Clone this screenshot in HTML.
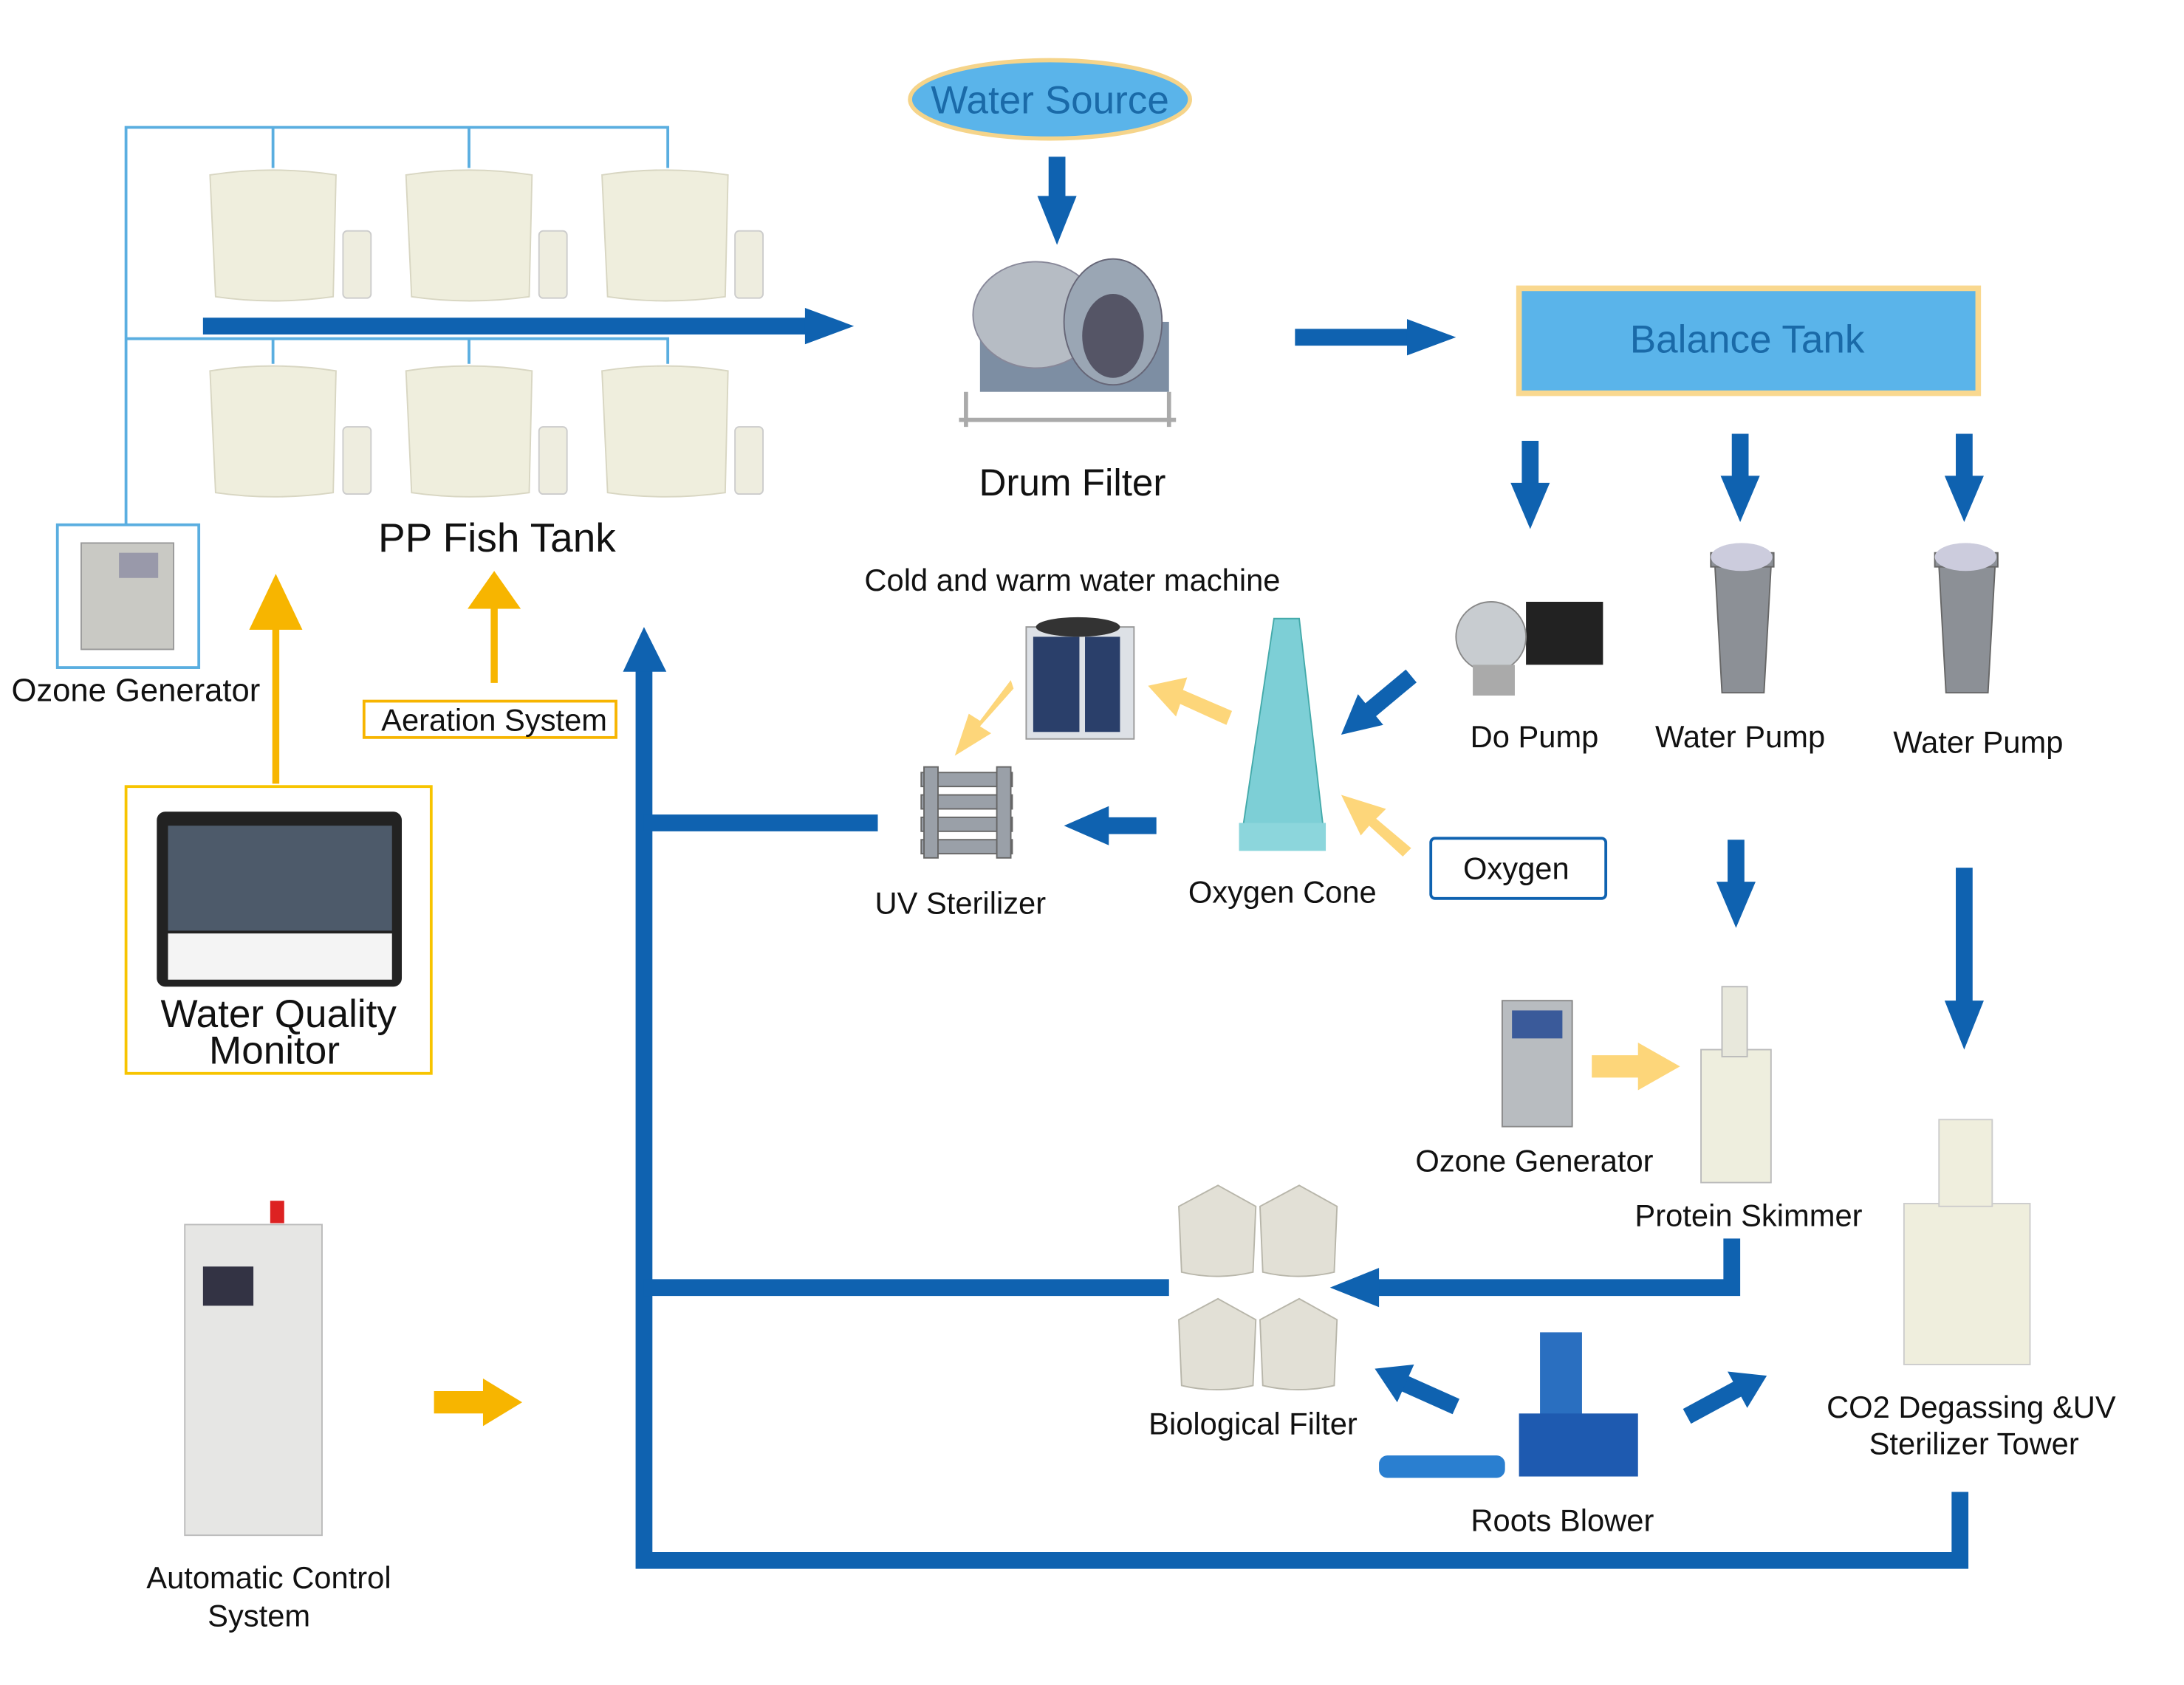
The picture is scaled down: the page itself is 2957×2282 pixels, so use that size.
<!DOCTYPE html>
<html><head><meta charset="utf-8"><style>
html,body{margin:0;padding:0;background:#fff;}
svg{display:block;}
text{font-family:"Liberation Sans Narrow","Liberation Sans",sans-serif;fill:#111;}
</style></head><body>
<svg width="2957" height="2282" viewBox="0 0 1560 1204" preserveAspectRatio="none" xmlns="http://www.w3.org/2000/svg">
<defs>
<marker id="ah" viewBox="0 0 10 10" refX="5" refY="5" markerWidth="3" markerHeight="3" orient="auto"><path d="M0,0L10,5L0,10z" fill="#0f62b0"/></marker>
<marker id="ay" viewBox="0 0 10 10" refX="5" refY="5" markerWidth="3" markerHeight="3" orient="auto"><path d="M0,0L10,5L0,10z" fill="#f7b500"/></marker>
<marker id="al" viewBox="0 0 10 10" refX="5" refY="5" markerWidth="3" markerHeight="3" orient="auto"><path d="M0,0L10,5L0,10z" fill="#fdd67a"/></marker>
<g id="tank">
<path d="M0,5 Q45,-2 90,5 L88,92 Q45,98 4,92 Z" fill="#efeedd" stroke="#d8d6c2"/>
<rect x="95" y="45" width="20" height="48" rx="3" fill="#eeeddf" stroke="#ccc"/>
</g>
<g id="bio">
<path d="M0,15 L28,0 L55,15 L53,62 Q27,68 2,62Z" fill="#e2e0d6" stroke="#b8b6aa"/>
</g>
</defs>

<!-- light blue piping -->
<g stroke="#5aaee0" stroke-width="2" fill="none">
<path d="M90,375 V91 H477 V120 M195,91 V120 M335,91 V120"/>
<path d="M90,242 H477 V260 M195,242 V260 M335,242 V260"/>
</g>
<use href="#tank" x="150" y="120"/><use href="#tank" x="290" y="120"/><use href="#tank" x="430" y="120"/>
<use href="#tank" x="150" y="260"/><use href="#tank" x="290" y="260"/><use href="#tank" x="430" y="260"/>

<!-- main arrows -->
<g stroke="#0f62b0" stroke-width="12" fill="none">
<line x1="145" y1="233" x2="585" y2="233"/>
<line x1="925" y1="241" x2="1015" y2="241"/>
<line x1="755" y1="112" x2="755" y2="150"/>
<line x1="1093" y1="315" x2="1093" y2="355"/>
<line x1="1243" y1="310" x2="1243" y2="350"/>
<line x1="1403" y1="310" x2="1403" y2="350"/>
<line x1="1240" y1="600" x2="1240" y2="640"/>
<line x1="1403" y1="620" x2="1403" y2="725"/>
<path d="M460,475 V1115 H1400 V1066"/>
<line x1="460" y1="588" x2="627" y2="588"/>
<line x1="460" y1="920" x2="835" y2="920"/>
<path d="M1237,885 V920 H975"/>
<line x1="826" y1="590" x2="785" y2="590"/>
<line x1="1008" y1="483" x2="978" y2="508"/>
<line x1="1040" y1="1005" x2="1002" y2="988"/>
<line x1="1205" y1="1012" x2="1242" y2="992"/>
</g>
<g fill="#0f62b0">
<path d="M575,220 L610,233 L575,246Z"/>
<path d="M1005,228 L1040,241 L1005,254Z"/>
<path d="M741,140 L755,175 L769,140Z"/>
<path d="M1079,345 L1093,378 L1107,345Z"/>
<path d="M1229,340 L1243,373 L1257,340Z"/>
<path d="M1389,340 L1403,373 L1417,340Z"/>
<path d="M1226,630 L1240,663 L1254,630Z"/>
<path d="M1389,715 L1403,750 L1417,715Z"/>
<path d="M445,480 L460,448 L476,480Z"/>
<path d="M985,906 L950,920 L985,934Z"/>
<path d="M792,576 L760,590 L792,604Z"/>
<path d="M970,496 L958,525 L988,518Z"/>
<path d="M1010,975 L982,978 L998,1002Z"/>
<path d="M1234,980 L1262,983 L1248,1006Z"/>
</g>

<!-- yellow arrows -->
<g stroke="#f7b500" stroke-width="5" fill="none">
<line x1="197" y1="560" x2="197" y2="440"/>
<line x1="353" y1="488" x2="353" y2="435"/>
</g>
<g fill="#f7b500">
<path d="M178,450 L197,410 L216,450Z"/>
<path d="M334,435 L353,408 L372,435Z"/>
<path d="M310,994 H345 V985 L373,1002 L345,1019 V1010 H310Z"/>
</g>
<g fill="#fdd67a">
<path d="M1137,754 H1170 V745 L1200,762 L1170,779 V770 H1137Z"/>
<path d="M880,508 L845,493 L848,484 L820,490 L840,512 L843,503 L876,518Z"/>
<path d="M722,486 L700,515 L692,510 L682,540 L708,524 L700,519 L724,492Z"/>
<path d="M1008,606 L983,585 L990,578 L958,568 L972,597 L978,590 L1002,612Z"/>
</g>

<!-- Water Source -->
<ellipse cx="750" cy="71" rx="100" ry="28" fill="#5ab4ea" stroke="#f5d48a" stroke-width="3"/>
<text x="750" y="81" font-size="28" text-anchor="middle" style="fill:#1a6aa8">Water Source</text>

<!-- Balance tank -->
<rect x="1085" y="206" width="328" height="75" fill="#5ab4ea" stroke="#f9d88f" stroke-width="4"/>
<text x="1248" y="252" font-size="28" text-anchor="middle" style="fill:#1a6aa8">Balance Tank</text>

<!-- Drum filter -->
<g>
<rect x="700" y="230" width="135" height="50" fill="#7d8ea3"/>
<ellipse cx="740" cy="225" rx="45" ry="38" fill="#b6bcc4" stroke="#889"/>
<ellipse cx="795" cy="230" rx="35" ry="45" fill="#9aa6b4" stroke="#667"/>
<ellipse cx="795" cy="240" rx="22" ry="30" fill="#556"/>
<path d="M685,300 H840 M690,280 V305 M835,280 V305" stroke="#aaa" stroke-width="3"/>
</g>
<text x="766" y="354" font-size="27" text-anchor="middle">Drum Filter</text>
<text x="355" y="394" font-size="29" text-anchor="middle">PP Fish Tank</text>

<!-- Ozone generator left -->
<rect x="41" y="375" width="101" height="102" fill="#fff" stroke="#5aaee0" stroke-width="2"/>
<rect x="58" y="388" width="66" height="76" fill="#c9c9c4" stroke="#999"/>
<rect x="85" y="395" width="28" height="18" fill="#99a"/>
<text x="97" y="501" font-size="23" text-anchor="middle">Ozone Generator</text>

<rect x="260" y="501" width="180" height="26" fill="#fff" stroke="#f7b500" stroke-width="2"/>
<text x="353" y="522" font-size="22" text-anchor="middle">Aeration System</text>

<!-- Water quality monitor -->
<rect x="90" y="562" width="218" height="205" fill="#fff" stroke="#f7c400" stroke-width="2"/>
<rect x="112" y="580" width="175" height="125" rx="6" fill="#222"/>
<rect x="120" y="590" width="160" height="75" fill="#4d5a6a"/>
<rect x="120" y="667" width="160" height="33" fill="#f4f4f4"/>
<text x="199" y="734" font-size="28" text-anchor="middle">Water Quality</text>
<text x="196" y="760" font-size="28" text-anchor="middle">Monitor</text>

<!-- cold warm machine -->
<text x="766" y="422" font-size="22" text-anchor="middle">Cold and warm water machine</text>
<rect x="733" y="448" width="77" height="80" fill="#dde1e6" stroke="#999"/>
<rect x="738" y="455" width="33" height="68" fill="#2a3f6a"/>
<rect x="775" y="455" width="25" height="68" fill="#2a3f6a"/>
<ellipse cx="770" cy="448" rx="30" ry="7" fill="#333"/>

<!-- oxygen cone -->
<path d="M910,442 L928,442 L945,590 Q918,600 888,590 Z" fill="#7dcfd6" stroke="#4aa"/>
<rect x="885" y="588" width="62" height="20" fill="#8cd6dc"/>
<text x="916" y="645" font-size="22" text-anchor="middle">Oxygen Cone</text>

<!-- UV sterilizer -->
<g fill="#9aa0a8" stroke="#666">
<rect x="658" y="552" width="65" height="10"/><rect x="658" y="568" width="65" height="10"/>
<rect x="658" y="584" width="65" height="10"/><rect x="658" y="600" width="65" height="10"/>
<rect x="660" y="548" width="10" height="65"/><rect x="712" y="548" width="10" height="65"/>
</g>
<text x="686" y="653" font-size="22" text-anchor="middle">UV Sterilizer</text>

<rect x="1022" y="599" width="125" height="43" rx="3" fill="#fff" stroke="#0f62b0" stroke-width="2"/>
<text x="1083" y="628" font-size="22" text-anchor="middle">Oxygen</text>

<!-- pumps -->
<rect x="1090" y="430" width="55" height="45" fill="#222"/>
<circle cx="1065" cy="455" r="25" fill="#c8ccd0" stroke="#888"/>
<rect x="1052" y="475" width="30" height="22" fill="#aaa"/>
<path d="M1222,395 h45 v10 h-45z M1225,405 h40 l-5,90 h-30z" fill="#8c9096" stroke="#666"/>
<ellipse cx="1244" cy="398" rx="22" ry="10" fill="#ccd"/>
<path d="M1382,395 h45 v10 h-45z M1385,405 h40 l-5,90 h-30z" fill="#8c9096" stroke="#666"/>
<ellipse cx="1404" cy="398" rx="22" ry="10" fill="#ccd"/>
<text x="1096" y="534" font-size="22" text-anchor="middle">Do Pump</text>
<text x="1243" y="534" font-size="22" text-anchor="middle">Water Pump</text>
<text x="1413" y="538" font-size="22" text-anchor="middle">Water Pump</text>

<!-- ozone gen 2 + protein skimmer -->
<rect x="1073" y="715" width="50" height="90" fill="#b8bcc0" stroke="#888"/>
<rect x="1080" y="722" width="36" height="20" fill="#3a5a9a"/>
<text x="1096" y="837" font-size="22" text-anchor="middle">Ozone Generator</text>
<rect x="1215" y="750" width="50" height="95" fill="#eeeede" stroke="#bbb"/>
<rect x="1230" y="705" width="18" height="50" fill="#e8e8dc" stroke="#bbb"/>
<text x="1249" y="876" font-size="22" text-anchor="middle">Protein Skimmer</text>

<!-- CO2 tower -->
<rect x="1360" y="860" width="90" height="115" fill="#efeedd" stroke="#ccc"/>
<rect x="1385" y="800" width="38" height="62" fill="#efeedd" stroke="#ccc"/>
<text x="1408" y="1013" font-size="22" text-anchor="middle">CO2 Degassing &amp;UV</text>
<text x="1410" y="1039" font-size="22" text-anchor="middle">Sterilizer Tower</text>

<!-- bio filter -->
<use href="#bio" x="842" y="847"/><use href="#bio" x="900" y="847"/>
<use href="#bio" x="842" y="928"/><use href="#bio" x="900" y="928"/>
<text x="895" y="1025" font-size="22" text-anchor="middle">Biological Filter</text>

<!-- roots blower -->
<rect x="1100" y="952" width="30" height="60" fill="#2a6fc0"/>
<rect x="1085" y="1010" width="85" height="45" fill="#1e5ab0"/>
<rect x="985" y="1040" width="90" height="16" rx="6" fill="#2a7fd0"/>
<text x="1116" y="1094" font-size="22" text-anchor="middle">Roots Blower</text>

<!-- cabinet -->
<rect x="132" y="875" width="98" height="222" fill="#e6e6e4" stroke="#bbb"/>
<rect x="145" y="905" width="36" height="28" fill="#334"/>
<rect x="193" y="858" width="10" height="16" fill="#d22"/>
<text x="192" y="1135" font-size="22" text-anchor="middle">Automatic Control</text>
<text x="185" y="1162" font-size="22" text-anchor="middle">System</text>
</svg>
</body></html>
